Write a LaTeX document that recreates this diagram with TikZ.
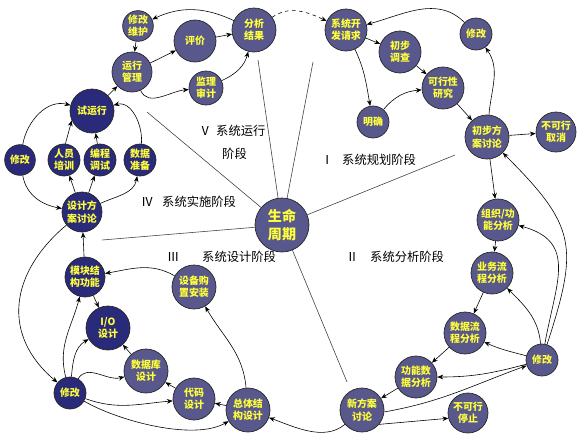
\documentclass[tikz,border=0pt]{standalone}
\usepackage{fontspec}
\newfontfamily\cjk{Noto Sans CJK SC}
\usepackage{xcolor}
\definecolor{navy}{RGB}{42,42,122}
\definecolor{slate}{RGB}{88,88,140}
\definecolor{ylw}{RGB}{255,255,60}
\usepackage{tikz}
\usetikzlibrary{arrows.meta, positioning, calc}
\tikzstyle{stage} = [circle, draw=black!85, line width=0.6pt, inner sep=0pt, align=center, text=ylw, font=\cjk\bfseries\fontsize{8.5}{10.5}\selectfont]
\tikzstyle{dk} = [stage, fill=navy]
\tikzstyle{lt} = [stage, fill=slate]
\tikzstyle{arr} = [-{Stealth[length=5pt,width=4pt]}, line width=0.5pt]
\tikzstyle{ray} = [line width=0.5pt, black!75]
\tikzstyle{phase} = [anchor=west, inner sep=0pt, font=\cjk\fontsize{10.5}{12}\selectfont]

\begin{document}
\begin{tikzpicture}[x=0.03cm, y=-0.03cm]
    \useasboundingbox (0,0) rectangle (583,435);

    % life cycle
    \node[lt, minimum size=1.62cm, font=\cjk\bfseries\fontsize{12}{15}\selectfont] (life) at (282,225) {生命\\周期};

    % run stage
    \node[lt, minimum size=0.92cm] (wh) at (138,26) {修改\\维护};
    \node[lt, minimum size=1.26cm] (pj) at (195,41) {评价};
    \node[lt, minimum size=1.32cm] (fx) at (254,30) {分析\\结果};
    \node[lt, minimum size=1.2cm] (yx) at (132,72) {运行\\管理};
    \node[lt, minimum size=1.02cm] (jl) at (206,88) {监理\\审计};
    \node[dk, minimum size=1.32cm] (sy) at (92,111) {试运行};

    % planning stage
    \node[lt, minimum size=1.26cm] (qq) at (346,30) {系统开\\发请求};
    \node[lt, minimum size=1.26cm] (dc) at (400,52) {初步\\调查};
    \node[lt, minimum size=0.96cm] (xg1) at (476,34) {修改};
    \node[lt, minimum size=1.26cm] (kx) at (443,88) {可行性\\研究};
    \node[lt, minimum size=0.96cm] (mq) at (373,122) {明确};
    \node[lt, minimum size=1.32cm] (cb) at (487,137) {初步方\\案讨论};
    \node[lt, minimum size=1.2cm] (qx) at (556,132) {不可行\\取消};

    % implementation stage
    \node[dk, minimum size=0.92cm] (xg4) at (20,160) {修改};
    \node[dk, minimum size=0.96cm] (px) at (64,160) {人员\\培训};
    \node[dk, minimum size=0.96cm] (bc) at (100,160) {编程\\调试};
    \node[dk, minimum size=0.96cm] (sj) at (140,160) {数据\\准备};
    \node[dk, minimum size=1.2cm] (fa) at (82,212) {设计方\\案讨论};

    % design stage
    \node[dk, minimum size=1.2cm] (mk) at (85,277) {模块结\\构功能};
    \node[lt, minimum size=1.32cm] (sb) at (194,287) {设备购\\置安装};
    \node[dk, minimum size=1.32cm] (io) at (108,328) {I/O\\设计};
    \node[lt, minimum size=1.32cm] (db) at (146,371) {数据库\\设计};
    \node[dk, minimum size=0.96cm] (xg3) at (70,393) {修改};
    \node[lt, minimum size=1.26cm] (dm) at (194,399) {代码\\设计};
    \node[lt, minimum size=1.32cm] (zt) at (248,410) {总体结\\构设计};

    % analysis stage
    \node[lt, minimum size=1.26cm] (zz) at (498,220) {组织/功\\能分析};
    \node[lt, minimum size=1.26cm] (yw) at (492,273) {业务流\\程分析};
    \node[lt, minimum size=1.26cm] (sl) at (465,333) {数据流\\程分析};
    \node[lt, minimum size=1.26cm] (gn) at (416,377) {功能数\\据分析};
    \node[lt, minimum size=0.96cm] (xg2) at (542,360) {修改};
    \node[lt, minimum size=1.32cm] (xf) at (362,410) {新方案\\讨论};
    \node[lt, minimum size=1.2cm] (tz) at (468,413) {不可行\\停止};

    % rays out of the life cycle
    \coordinate (e5) at (147,112);
    \coordinate (e4) at (102,240);
    \coordinate (ea) at (258,60);
    \coordinate (eb) at (313,62);
    \coordinate (e1) at (455,155);
    \coordinate (e2) at (347,382);
    \draw[ray] (life) -- (e5);
    \draw[ray] (life) -- (e4);
    \draw[ray] (life) -- (ea);
    \draw[ray] (life) -- (eb);
    \draw[ray] (life) -- (e1);
    \draw[ray] (life) -- (e2);

    % stage names
    \node[phase] (n5) at (199,131) {Ⅴ};
    \node[phase] (t5) at (216,131) {系统运行};
    \node[phase] (t5b) at (222,154) {阶段};
    \node[phase] (n4) at (141,202) {Ⅳ};
    \node[phase] (t4) at (162,202) {系统实施阶段};
    \node[phase] (n3) at (167,257) {Ⅲ};
    \node[phase] (t3) at (202,257) {系统设计阶段};
    \node[phase] (n1) at (321,160) {Ⅰ};
    \node[phase] (t1) at (342,160) {系统规划阶段};
    \node[phase] (n2) at (346,257) {Ⅱ};
    \node[phase] (t2) at (370,257) {系统分析阶段};

    % run stage arrows
    \draw[arr] (fx) to[out=155, in=25] (wh);
    \draw[arr] (wh) -- (yx);
    \draw[arr] (yx) -- (pj);
    \draw[arr] (yx) to[out=-65, in=185] (jl);
    \draw[arr] (pj) -- (fx);
    \draw[arr] (jl) to[out=25, in=-105] (fx);
    \draw[arr] (sy) -- (yx);
    \draw[arr, dashed] (fx) to[out=35, in=155] (qq);

    % planning stage arrows
    \draw[arr] (qq) -- (dc);
    \draw[arr] (qq) to[out=-65, in=100] (mq);
    \draw[arr] (mq) to[out=50, in=185] (kx);
    \draw[arr] (dc) -- (kx);
    \draw[arr] (kx) -- (cb);
    \draw[arr] (cb) -- (qx);
    \draw[arr] (cb) to[out=85, in=-55] (xg1);
    \draw[arr] (xg1) to[out=135, in=15] (qq);
    \draw[arr] (cb) -- (zz);

    % analysis stage arrows
    \draw[arr] (zz) -- (yw);
    \draw[arr] (yw) -- (sl);
    \draw[arr] (sl) -- (gn);
    \draw[arr] (gn) -- (xf);
    \draw[arr] (xg2) to[out=95, in=-45] (yw);
    \draw[arr] (xg2) to[out=165, in=-25] (sl);
    \draw[arr] (xg2) to[out=195, in=0] (gn);
    \draw[arr] (xg2) to[out=80, in=-15, looseness=1.3] (zz);
    \draw[arr] (xg2) to[out=72, in=-45, looseness=1.35] (cb);
    \draw[arr] (xf.-5) to[out=10, in=200] (xg2);
    \draw[arr] (xf.-40) -- (tz.195);
    \draw[arr] (xf) to[out=220, in=-20, looseness=0.9] (zt);

    % design stage arrows
    \draw[arr] (zt) -- (dm);
    \draw[arr] (dm) -- (db);
    \draw[arr] (db) -- (io);
    \draw[arr] (zt) to[out=95, in=-60] (sb);
    \draw[arr] (sb) to[out=150, in=10] (mk);
    \draw[arr] (mk) -- (fa);
    \draw[arr] (mk) -- (io);
    \draw[arr] (xg3) to[out=105, in=-105] (mk);
    \draw[arr] (xg3) to[out=85, in=210] (io);
    \draw[arr] (xg3) to[out=60, in=195] (db);
    \draw[arr] (xg3) to[out=-20, in=185] (dm);
    \draw[arr] (xg3) to[out=-30, in=210, looseness=0.7] (zt);
    \draw[arr] (fa) to[out=220, in=140, looseness=1.2] (xg3);

    % implementation stage arrows
    \draw[arr] (fa) -- (px);
    \draw[arr] (fa) -- (bc);
    \draw[arr] (fa) to[out=25, in=-100] (sj);
    \draw[arr] (xg4) to[out=-80, in=170] (fa);
    \draw[arr] (xg4) to[out=80, in=165] (sy);
    \draw[arr] (px.85) -- (sy.205);
    \draw[arr] (bc) -- (sy);
    \draw[arr] (sj) to[out=85, in=15] (sy);
\end{tikzpicture}
\end{document}
